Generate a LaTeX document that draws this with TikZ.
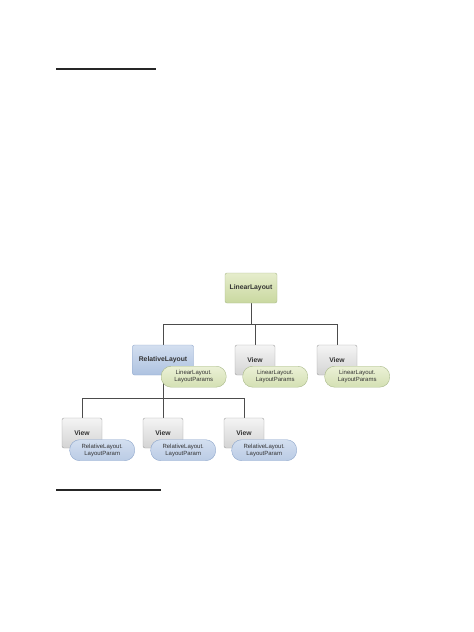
\documentclass[tikz,border=0pt]{standalone}
\usepackage{fontspec}
\setmainfont{Liberation Sans}
\usetikzlibrary{positioning,backgrounds}
\definecolor{greentop}{HTML}{E6EDCC}
\definecolor{greenbot}{HTML}{C9D8A0}
\definecolor{greenline}{HTML}{A9B98A}
\definecolor{bluetop}{HTML}{D3DFF0}
\definecolor{bluebot}{HTML}{AEC2E0}
\definecolor{blueline}{HTML}{8EA6CB}
\definecolor{graytop}{HTML}{F4F4F4}
\definecolor{graybot}{HTML}{D4D4D4}
\definecolor{grayline}{HTML}{A0A0A0}
\definecolor{textgray}{HTML}{333333}

\begin{document}
\begin{tikzpicture}[x=1pt, y=-1pt,
    box/.style = {rounded corners=2pt, minimum height=30pt, inner sep=0pt, text=textgray, font=\bfseries\fontsize{6.8}{7.5}\selectfont},
    greenbox/.style = {box, draw=greenline, top color=greentop, bottom color=greenbot},
    bluebox/.style = {box, draw=blueline, top color=bluetop, bottom color=bluebot},
    graybox/.style = {box, draw=grayline, top color=graytop, bottom color=graybot, minimum width=40pt},
    pill/.style = {rounded corners=10pt, minimum width=65pt, minimum height=21pt, inner sep=0pt, align=center, text=textgray, font=\fontsize{6}{7}\selectfont},
    greenpill/.style = {pill, draw=greenline, top color=greentop!80!white, bottom color=greenbot!80!white},
    bluepill/.style = {pill, draw=blueline, top color=bluetop, bottom color=bluebot!85!white},
    wire/.style = {draw=black!70, line width=0.8pt},
    rule/.style = {draw=black!85, line width=1.4pt}]
    \useasboundingbox (0,0) rectangle (474,632);

    \draw[rule] (56,69) -- (156,69);
    \draw[rule] (56,490) -- (161,490);

    \node[greenbox, minimum width=52pt] (ll) at (251,288) {LinearLayout};
    \node[bluebox, minimum width=61pt] (rl) at (163,360) {RelativeLayout};
    \node[graybox] (v1) at (255,360) {View};
    \node[graybox] (v2) at (337,360) {View};
    \node[graybox] (v3) at (82,433) {View};
    \node[graybox] (v4) at (163,433) {View};
    \node[graybox] (v5) at (244,433) {View};

    \node[greenpill] (p1) at ([yshift=-1.5pt]rl.south east) {LinearLayout.\\LayoutParams};
    \node[greenpill] (p2) at ([yshift=-1.5pt]v1.south east) {LinearLayout.\\LayoutParams};
    \node[greenpill] (p3) at ([yshift=-1.5pt]v2.south east) {LinearLayout.\\LayoutParams};
    \node[bluepill] (p4) at ([yshift=-2pt]v3.south east) {RelativeLayout.\\LayoutParam};
    \node[bluepill] (p5) at ([yshift=-2pt]v4.south east) {RelativeLayout.\\LayoutParam};
    \node[bluepill] (p6) at ([yshift=-2pt]v5.south east) {RelativeLayout.\\LayoutParam};

    \coordinate (b1) at (251,324.5);
    \coordinate (b2) at (163,398);
    \begin{scope}[on background layer]
        \draw[wire] (ll) -- (b1);
        \draw[wire] (b1) -| (rl);
        \draw[wire] (b1) -| (v1);
        \draw[wire] (b1) -| (v2);
        \draw[wire] (rl) -- (b2);
        \draw[wire] (b2) -| (v3);
        \draw[wire] (b2) -| (v4);
        \draw[wire] (b2) -| (v5);
    \end{scope}
\end{tikzpicture}
\end{document}
